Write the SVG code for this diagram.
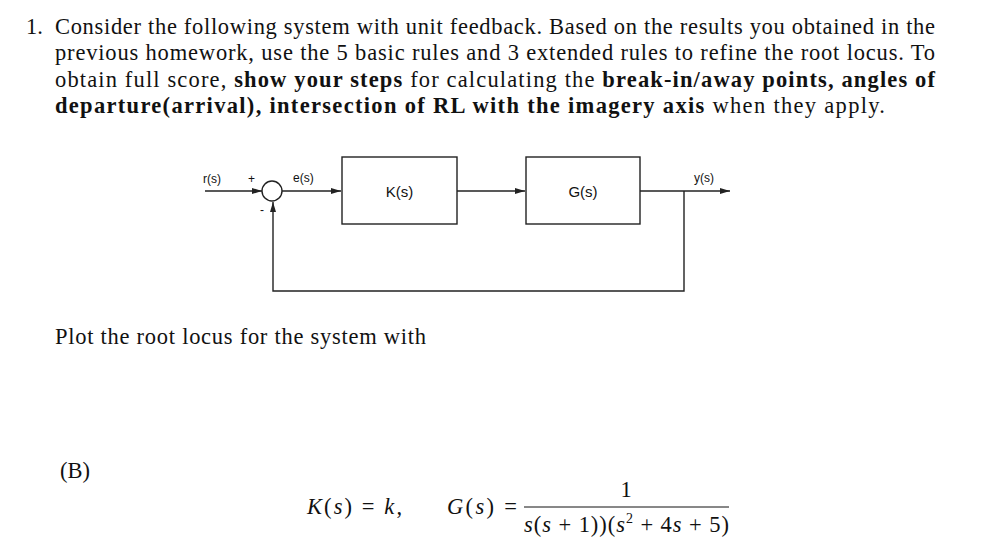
<svg xmlns="http://www.w3.org/2000/svg" width="987" height="552" viewBox="0 0 987 552">
<style>
.t{font-family:"Liberation Serif",serif;font-size:22.5px;fill:#111}
.b{font-weight:bold}
.s{font-family:"Liberation Sans",sans-serif;font-size:12px;fill:#111}
.m{font-family:"Liberation Sans",sans-serif;font-size:15px;fill:#111}
.ln{stroke:#222;stroke-width:1.4;fill:none}
.i{font-style:italic}
</style>
<defs><marker id="a" viewBox="0 0 10 6" refX="10" refY="3" markerWidth="10" markerHeight="6" markerUnits="userSpaceOnUse" orient="auto"><path d="M0,0L10,3L0,6z" fill="#222"/></marker></defs>
<rect width="987" height="552" fill="#fff"/>
<text class="t" x="26" y="34">1.</text>
<text class="t" x="55" y="34" textLength="880" lengthAdjust="spacing">Consider the following system with unit feedback. Based on the results you obtained in the</text>
<text class="t" x="55" y="60" textLength="880" lengthAdjust="spacing">previous homework, use the 5 basic rules and 3 extended rules to refine the root locus. To</text>
<text class="t" x="55" y="87" textLength="880" lengthAdjust="spacing">obtain full score, <tspan class="b">show your steps</tspan> for calculating the <tspan class="b">break-in/away points, angles of</tspan></text>
<text class="t" x="55" y="113" textLength="830" lengthAdjust="spacing"><tspan class="b">departure(arrival), intersection of RL with the imagery axis</tspan> when they apply.</text>
<g id="connectors">
<path class="ln" d="M205,191H262" marker-end="url(#a)"/>
<path class="ln" d="M282,191H341" marker-end="url(#a)"/>
<path class="ln" d="M457,191H525" marker-end="url(#a)"/>
<path class="ln" d="M640,191H730" marker-end="url(#a)"/>
<path class="ln" d="M684,191V291H273V202" marker-end="url(#a)"/>
</g>
<g id="sum"><circle class="ln" cx="272" cy="191" r="10"/></g>
<g id="K"><rect class="ln" x="342" y="157" width="115" height="67"/><text class="m" x="399.5" y="197" text-anchor="middle">K(s)</text></g>
<g id="G"><rect class="ln" x="526" y="157" width="114" height="67"/><text class="m" x="583" y="197" text-anchor="middle">G(s)</text></g>
<text class="s" x="203" y="183">r(s)</text>
<text class="s" x="248" y="183">+</text>
<text class="s" x="293" y="182">e(s)</text>
<text class="s" x="694" y="182">y(s)</text>
<text class="s" x="260" y="214">-</text>
<text class="t" x="55" y="344" textLength="371" lengthAdjust="spacing">Plot the root locus for the system with</text>
<text class="t" x="60" y="478">(B)</text>
<text class="t" x="307" y="514" textLength="95" lengthAdjust="spacing"><tspan class="i">K</tspan>(<tspan class="i">s</tspan>) = <tspan class="i">k</tspan>,</text>
<text class="t" x="447" y="514" textLength="70" lengthAdjust="spacing"><tspan class="i">G</tspan>(<tspan class="i">s</tspan>) =</text>
<text class="t" x="626" y="497" text-anchor="middle">1</text>
<line x1="524" y1="507" x2="729" y2="507" stroke="#111" stroke-width="1"/>
<text class="t" x="524" y="532" textLength="205" lengthAdjust="spacing"><tspan class="i">s</tspan>(<tspan class="i">s</tspan> + 1))(<tspan class="i">s</tspan><tspan font-size="14" dy="-9">2</tspan><tspan dy="9"> + 4</tspan><tspan class="i">s</tspan> + 5)</text>
</svg>
